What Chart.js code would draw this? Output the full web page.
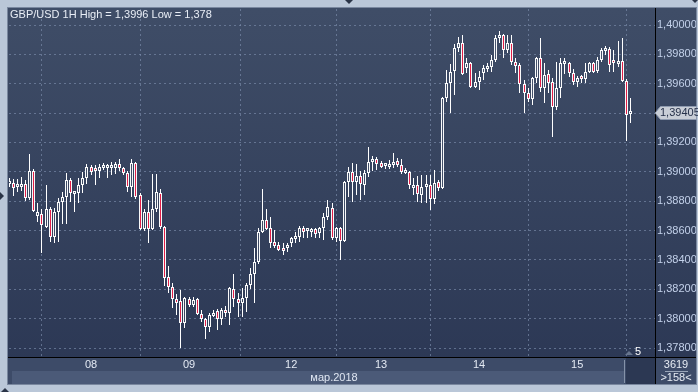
<!DOCTYPE html>
<html><head><meta charset="utf-8">
<script src="https://cdn.jsdelivr.net/npm/chart.js@4.4.1/dist/chart.umd.min.js"></script>
<style>html,body{margin:0;padding:0;background:#bac7d8;overflow:hidden}canvas{display:block}</style>
</head><body>
<canvas id="c" width="698" height="392"></canvas>
<script>
const symbol = 'GBP/USD';
const timeframe = '1H';
const dateIndex = [20, 44, 69, 91, 115, 139];
const dateLabels = ['08', '09', '12', '13', '14', '15'];
const monthLabel = 'мар.2018';
const priceTicks = [1.378, 1.380, 1.382, 1.384, 1.386, 1.388, 1.390, 1.392, 1.394, 1.396, 1.398, 1.400];
const totalBars = '3619';
const windowBars = '>158<';
const shiftLabel = '5';

const open = [1.38914,1.38922,1.38894,1.38894,1.38915,1.38820,1.39008,1.38701,1.38713,1.38626,
1.38745,1.38558,1.38724,1.38792,1.38826,1.38946,1.38852,1.38858,1.38908,1.38956,
1.39031,1.39005,1.39005,1.39029,1.39028,1.39029,1.39024,1.39055,1.39024,1.38992,
1.38894,1.39062,1.38842,1.38608,1.38728,1.38608,1.38745,1.38858,1.38626,1.38281,
1.38213,1.38134,1.38120,1.37972,1.38134,1.38095,1.38134,1.38029,1.37995,1.37941,
1.38018,1.38052,1.37995,1.38059,1.38036,1.38200,1.38134,1.38104,1.38138,1.38229,
1.38304,1.38384,1.38592,1.38672,1.38615,1.38520,1.38501,1.38483,1.38479,1.38517,
1.38542,1.38558,1.38615,1.38595,1.38592,1.38608,1.38581,1.38619,1.38694,1.38755,
1.38547,1.38615,1.38531,1.38929,1.38997,1.38933,1.38971,1.38910,1.38990,1.39065,
1.39085,1.39058,1.39040,1.39035,1.39046,1.39074,1.39046,1.38994,1.39001,1.38892,
1.38910,1.38842,1.38900,1.38910,1.38815,1.38931,1.38888,1.39501,1.39603,1.39687,
1.39845,1.39875,1.39705,1.39739,1.39580,1.39614,1.39671,1.39698,1.39716,1.39762,
1.39909,1.39932,1.39830,1.39875,1.39750,1.39728,1.39596,1.39535,1.39496,1.39637,
1.39773,1.39569,1.39666,1.39614,1.39439,1.39569,1.39734,1.39739,1.39675,1.39614,
1.39648,1.39630,1.39682,1.39743,1.39689,1.39762,1.39825,1.39835,1.39746,1.39734,
1.39757,1.39621,1.39392];

const high = [1.38956,1.38949,1.38951,1.38963,1.38944,1.39121,1.39017,1.38785,1.38745,1.38910,
1.38762,1.38751,1.38820,1.38864,1.38990,1.38960,1.38864,1.38956,1.38997,1.39053,
1.39046,1.39046,1.39051,1.39058,1.39051,1.39069,1.39069,1.39087,1.39035,1.39005,
1.39085,1.39069,1.38858,1.38747,1.38808,1.38985,1.38985,1.38881,1.38631,1.38358,
1.38240,1.38168,1.38195,1.38149,1.38149,1.38149,1.38142,1.38059,1.38002,1.38036,
1.38059,1.38065,1.38070,1.38086,1.38217,1.38304,1.38172,1.38206,1.38240,1.38343,
1.38479,1.38619,1.38883,1.38747,1.38694,1.38604,1.38524,1.38513,1.38513,1.38558,
1.38592,1.38633,1.38633,1.38610,1.38619,1.38619,1.38626,1.38717,1.38808,1.38785,
1.38626,1.38626,1.38937,1.39035,1.39058,1.39051,1.39005,1.39012,1.39171,1.39108,
1.39103,1.39074,1.39051,1.39080,1.39126,1.39096,1.39087,1.39024,1.39005,1.38958,
1.38971,1.38978,1.38978,1.38978,1.39012,1.38944,1.39512,1.39694,1.39732,1.39869,
1.39920,1.39932,1.39773,1.39750,1.39671,1.39687,1.39728,1.39739,1.39796,1.39932,
1.39959,1.39937,1.39932,1.39932,1.39773,1.39739,1.39625,1.39569,1.39648,1.39784,
1.39909,1.39739,1.39694,1.39637,1.39750,1.39773,1.39773,1.39748,1.39698,1.39653,
1.39659,1.39739,1.39750,1.39751,1.39784,1.39841,1.39857,1.39852,1.39830,1.39891,
1.39909,1.39630,1.39501];

const low = [1.38899,1.38837,1.38864,1.38871,1.38801,1.38808,1.38728,1.38660,1.38445,1.38615,
1.38524,1.38517,1.38524,1.38644,1.38644,1.38796,1.38728,1.38785,1.38854,1.38915,
1.38978,1.38910,1.38960,1.39012,1.38956,1.38978,1.38983,1.39005,1.38978,1.38864,
1.38830,1.38815,1.38604,1.38597,1.38517,1.38604,1.38728,1.38608,1.38222,1.38172,
1.38070,1.38025,1.37798,1.37938,1.38077,1.38077,1.38025,1.37979,1.37863,1.37911,
1.38009,1.37922,1.37956,1.38009,1.37956,1.38077,1.38009,1.38009,1.38047,1.38200,
1.38108,1.38372,1.38583,1.38604,1.38483,1.38483,1.38461,1.38433,1.38456,1.38490,
1.38513,1.38524,1.38547,1.38551,1.38558,1.38547,1.38551,1.38535,1.38672,1.38535,
1.38524,1.38399,1.38524,1.38830,1.38792,1.38842,1.38808,1.38842,1.38967,1.39005,
1.39012,1.39024,1.39019,1.39019,1.39024,1.39035,1.38983,1.38987,1.38883,1.38842,
1.38794,1.38790,1.38788,1.38740,1.38781,1.38869,1.38883,1.39478,1.39399,1.39523,
1.39818,1.39659,1.39671,1.39569,1.39569,1.39557,1.39625,1.39682,1.39682,1.39750,
1.39875,1.39773,1.39807,1.39728,1.39671,1.39535,1.39399,1.39473,1.39455,1.39603,
1.39546,1.39467,1.39539,1.39239,1.39421,1.39501,1.39666,1.39648,1.39591,1.39580,
1.39603,1.39603,1.39671,1.39671,1.39671,1.39750,1.39796,1.39682,1.39682,1.39716,
1.39614,1.39212,1.39330];

const close = [1.38927,1.38892,1.38917,1.38917,1.38820,1.39005,1.38733,1.38728,1.38638,1.38745,
1.38554,1.38724,1.38792,1.38826,1.38944,1.38854,1.38856,1.38908,1.38960,1.39031,
1.38997,1.39003,1.39031,1.39032,1.39031,1.39032,1.39055,1.39024,1.38990,1.38897,
1.39058,1.38830,1.38610,1.38728,1.38608,1.38745,1.38862,1.38626,1.38275,1.38213,
1.38132,1.38108,1.37972,1.38138,1.38095,1.38127,1.38031,1.37995,1.37941,1.38025,
1.38036,1.37995,1.38059,1.38036,1.38206,1.38134,1.38104,1.38138,1.38229,1.38304,
1.38384,1.38592,1.38672,1.38610,1.38513,1.38497,1.38467,1.38463,1.38501,1.38547,
1.38565,1.38615,1.38588,1.38602,1.38604,1.38574,1.38619,1.38694,1.38762,1.38547,
1.38615,1.38531,1.38929,1.38997,1.38933,1.38971,1.38915,1.38990,1.39069,1.39080,
1.39051,1.39035,1.39042,1.39051,1.39062,1.39046,1.38997,1.38999,1.38910,1.38910,
1.38847,1.38897,1.38903,1.38813,1.38922,1.38893,1.39501,1.39603,1.39678,1.39845,
1.39875,1.39664,1.39739,1.39580,1.39610,1.39648,1.39705,1.39716,1.39762,1.39909,
1.39932,1.39830,1.39875,1.39750,1.39723,1.39596,1.39535,1.39496,1.39637,1.39773,
1.39569,1.39659,1.39607,1.39439,1.39569,1.39739,1.39743,1.39671,1.39614,1.39637,
1.39630,1.39682,1.39739,1.39678,1.39762,1.39830,1.39835,1.39728,1.39741,1.39757,
1.39621,1.39387,1.39405];

const FONT = "'Liberation Sans Narrow', 'Liberation Sans', Arial, sans-serif";
const RED = '#e0103c';
const C_TOP = [63, 77, 103], C_BOT = [43, 55, 84];
function bgAt(y) {
  const t = Math.min(1, Math.max(0, (y - 9) / (384 - 9)));
  const c = C_TOP.map((v, k) => Math.round(v + (C_BOT[k] - v) * t));
  return 'rgb(' + c.join(',') + ')';
}
const fmtPrice = v => v.toFixed(5).replace('.', ',');
const fmtShort = v => v.toFixed(4).replace(/0+$/, '').replace('.', ',');

const wickData = low.map((l, i) => ({ x: i, y: [l, high[i]] }));
const bodyData = open.map((o, i) => ({ x: i, y: [o, close[i]] }));

const snap = {
  id: 'snap',
  afterDatasetsUpdate(chart) {
    chart.getSortedVisibleDatasetMetas().forEach(meta => {
      meta.data.forEach(el => {
        el.x = Math.floor(el.x) + 0.5;
        el.y = Math.round(el.y);
        el.base = Math.round(el.base);
      });
    });
  }
};

const frame = {
  id: 'frame',
  beforeDraw(chart) {
    const ctx = chart.ctx;
    ctx.save();
    ctx.fillStyle = '#bac7d8';
    ctx.fillRect(0, 0, 698, 392);
    const g = ctx.createLinearGradient(0, 9, 0, 384);
    g.addColorStop(0, bgAt(9));
    g.addColorStop(1, bgAt(384));
    ctx.fillStyle = g;
    ctx.fillRect(8, 8, 688, 376);
    ctx.fillStyle = '#3d4b68';
    ctx.fillRect(8, 358, 688, 26);
    ctx.fillStyle = '#4b5a78';
    ctx.fillRect(12, 371, 612, 13);
    ctx.fillStyle = '#2c3853';
    ctx.fillRect(626, 358, 29, 26);
    ctx.fillStyle = '#8592a8';
    ctx.fillRect(624, 360, 1, 23);
    ctx.strokeStyle = '#7a889f';
    ctx.lineWidth = 1;
    ctx.strokeRect(7.5, 7.5, 689, 377);
    ctx.restore();
  },
  afterDraw(chart) {
    const ctx = chart.ctx;
    const ys = chart.scales.y;
    ctx.save();
    ctx.fillStyle = '#000000';
    ctx.fillRect(8, 357, 688, 1);
    ctx.fillRect(655, 8, 1, 376);

    ctx.font = '11px ' + FONT;
    ctx.textBaseline = 'middle';
    ctx.textAlign = 'left';
    ctx.fillStyle = '#e9eef6';
    const hi = Math.max(...high), lo = Math.min(...low);
    ctx.fillText(symbol + ' ' + timeframe + ' High = ' + fmtShort(hi) + ' Low = ' + fmtShort(lo), 10, 15);

    // current price tag
    const last = close[close.length - 1];
    const py = Math.round(ys.getPixelForValue(last)) + 0.5;
    ctx.beginPath();
    ctx.moveTo(655.5, py);
    ctx.lineTo(660.5, py - 6);
    ctx.lineTo(696.5, py - 6);
    ctx.lineTo(696.5, py + 7);
    ctx.lineTo(660.5, py + 7);
    ctx.lineTo(655.5, py + 1);
    ctx.closePath();
    ctx.fillStyle = '#c9ced7';
    ctx.fill();
    ctx.strokeStyle = '#8f9bb0';
    ctx.stroke();
    ctx.fillStyle = '#26314a';
    ctx.fillText(fmtPrice(last), 660, py + 0.5);

    // month label
    ctx.fillStyle = '#dfe6f2';
    ctx.textAlign = 'center';
    ctx.fillText(monthLabel, 334, 377.5);

    // bottom-right counters
    ctx.fillStyle = '#e6ebf3';
    ctx.fillText(totalBars, 676, 365);
    ctx.fillText(windowBars, 676, 378);
    ctx.fillStyle = '#9aa6b9';
    ctx.fillRect(665, 371, 23, 1);

    // shift marker
    ctx.fillStyle = '#ffffff';
    ctx.textAlign = 'left';
    ctx.fillText(shiftLabel, 635, 352);
    ctx.fillStyle = '#67758e';
    ctx.beginPath();
    ctx.moveTo(625, 355); ctx.lineTo(633, 355); ctx.lineTo(629, 351); ctx.closePath(); ctx.fill();

    // window triangles
    ctx.fillStyle = '#2a3447';
    ctx.beginPath(); ctx.moveTo(345, 0); ctx.lineTo(353, 0); ctx.lineTo(349, 4); ctx.closePath(); ctx.fill();
    ctx.beginPath(); ctx.moveTo(0, 192); ctx.lineTo(0, 200); ctx.lineTo(4, 196); ctx.closePath(); ctx.fill();
    ctx.beginPath(); ctx.moveTo(1, 392); ctx.lineTo(9, 392); ctx.lineTo(5, 388); ctx.closePath(); ctx.fill();
    ctx.beginPath(); ctx.moveTo(692, 0); ctx.lineTo(698, 0); ctx.lineTo(695, 3); ctx.closePath(); ctx.fill();
    ctx.restore();
  }
};

new Chart(document.getElementById('c'), {
  type: 'bar',
  data: {
    datasets: [
      {
        label: 'body',
        data: bodyData,
        order: 0,
        grouped: false,
        maxBarThickness: 3,
        minBarLength: 3,
        borderWidth: 1,
        borderSkipped: false,
        borderColor: '#ffffff',
        backgroundColor: (c) => {
          const i = c.dataIndex;
          if (i === undefined) return RED;
          if (close[i] < open[i]) return RED;
          const s = c.chart.scales && c.chart.scales.y;
          const y = s ? s.getPixelForValue((open[i] + close[i]) / 2) : 180;
          return bgAt(isFinite(y) ? y : 180);
        }
      },
      {
        label: 'wick',
        data: wickData,
        order: 1,
        grouped: false,
        maxBarThickness: 1,
        borderWidth: 0,
        backgroundColor: '#ffffff'
      }
    ]
  },
  options: {
    responsive: false,
    animation: false,
    devicePixelRatio: 1,
    layout: { padding: { left: 9, top: 9, right: 2, bottom: 8 } },
    plugins: { legend: { display: false }, tooltip: { enabled: false }, title: { display: false } },
    scales: {
      x: {
        type: 'linear',
        offset: false,
        min: -0.073,
        max: 158.05,
        position: 'bottom',
        afterBuildTicks: s => { s.ticks = dateIndex.map(v => ({ value: v })); },
        afterFit: s => { s.height = 27; },
        grid: { color: 'rgba(125,141,172,0.65)', lineWidth: 1, drawTicks: false },
        border: { display: false, dash: [2, 3] },
        ticks: {
          autoSkip: false, maxRotation: 0, padding: 1,
          color: '#e3e9f3',
          font: { family: FONT, size: 11 },
          callback: v => { const k = dateIndex.indexOf(v); return k >= 0 ? dateLabels[k] : ''; }
        }
      },
      y: {
        type: 'linear',
        position: 'right',
        min: 1.377389,
        max: 1.40109,
        afterBuildTicks: s => { s.ticks = priceTicks.map(v => ({ value: v })); },
        afterFit: s => { s.width = 41; },
        grid: { color: 'rgba(125,141,172,0.65)', lineWidth: 1, drawTicks: false },
        border: { display: false, dash: [2, 3] },
        ticks: {
          padding: 2,
          color: '#c3d1ea',
          font: { family: FONT, size: 11 },
          callback: v => fmtPrice(v)
        }
      }
    }
  },
  plugins: [snap, frame]
});
</script>
</body></html>
